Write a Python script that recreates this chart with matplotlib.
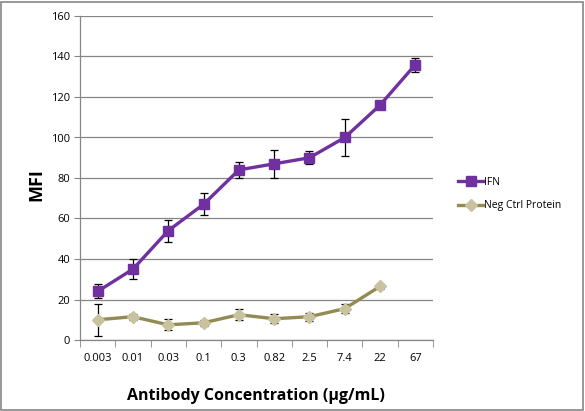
import numpy as np
import matplotlib
matplotlib.use("Agg")
import matplotlib.pyplot as plt
from matplotlib.patches import Rectangle

# ---- data ----
conc_labels = ["0.003", "0.01", "0.03", "0.1", "0.3", "0.82", "2.5", "7.4", "22", "67"]

ifn_mean = [24, 35, 54, 67, 84, 87, 90, 100, 116, 136]
ifn_err = [3.5, 5, 5.5, 5.5, 4, 7, 3.3, 9, 0.3, 3.5]

neg_mean = [10, 11.5, 7.5, 8.5, 12.5, 10.5, 11.5, 15.5, 26.5]
neg_err = [8, 1.5, 2.7, 1.6, 2.6, 2.1, 2, 2.3, 1.2]

plt.rcParams['font.family'] = ['Open Sans', 'DejaVu Sans']

fig = plt.figure(figsize=(5.85, 4.11), dpi=100)
ax = fig.add_axes([80 / 585, 71 / 411, 353 / 585, 324 / 411])

x = np.arange(len(conc_labels))
xn = x[:len(neg_mean)]
purple = "#7030A0"
olive_line = "#948A54"
olive_mark = "#C9C29E"

# error bars sit under the markers
ax.errorbar(x, ifn_mean, yerr=ifn_err, fmt="none", ecolor="black",
            elinewidth=0.9, capsize=3, capthick=0.9, zorder=2)
ax.errorbar(xn, neg_mean, yerr=neg_err, fmt="none", ecolor="black",
            elinewidth=0.9, capsize=3, capthick=0.9, zorder=2)

ax.plot(x, ifn_mean, color=purple, lw=2.4, marker="s", ms=7.5, label="IFN", zorder=3)
ax.plot(xn, neg_mean, color=olive_line, lw=2.4, marker="D", ms=6.5,
        mfc=olive_mark, mec=olive_mark, label="Neg Ctrl Protein", zorder=3)

ax.set_xlim(-0.5, len(conc_labels) - 0.5)
ax.set_ylim(0, 160)
ax.set_yticks(np.arange(0, 161, 20))
ax.set_xticks(x)
ax.set_xticklabels(conc_labels)
ax.set_xticks(np.arange(-0.5, len(conc_labels), 1), minor=True)
ax.tick_params(axis="x", which="major", length=0, pad=9, labelsize=8)
ax.tick_params(axis="x", which="minor", length=5, color="#868686", direction="out")
ax.tick_params(axis="y", length=4, color="#868686", labelsize=8, pad=3)

ax.grid(axis="y", color="#868686", lw=0.9)
ax.set_axisbelow(True)
for s in ["top", "right"]:
    ax.spines[s].set_visible(False)
for s in ["left", "bottom"]:
    ax.spines[s].set_color("#868686")
    ax.spines[s].set_linewidth(0.9)

fig.text(256 / 585, 1 - 396 / 411, "Antibody Concentration (\u03bcg/mL)",
         fontsize=11.5, fontweight="bold", ha="center", va="center")
fig.text(36 / 585, 1 - 185 / 411, "MFI", fontsize=13, fontweight="bold",
         rotation=90, ha="center", va="center")

ax.legend(loc="center left", bbox_to_anchor=(1.06, 0.45), frameon=False,
          fontsize=7.5, handlelength=2.4, handletextpad=0.1, labelspacing=1.2,
          borderaxespad=0)

fig.patches.append(Rectangle((1 / 585, 1 / 411), 582 / 585, 408 / 411,
                             transform=fig.transFigure, fill=False,
                             edgecolor="#868686", lw=1.2))

fig.savefig("out.png", dpi=100)
